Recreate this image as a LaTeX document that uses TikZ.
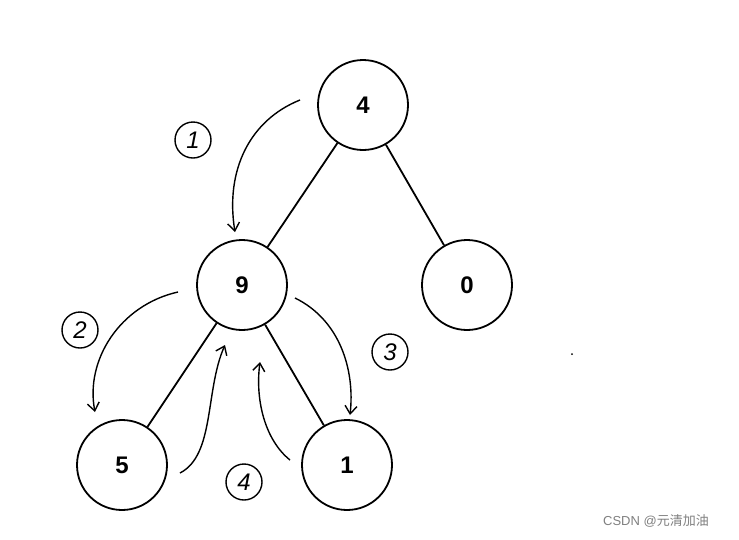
\documentclass[tikz,border=0pt]{standalone}
\usepackage{fontspec}
\usetikzlibrary{arrows.meta}
\setmainfont{Liberation Sans}
\newfontfamily\cjk{Noto Sans CJK SC}
\begin{document}
\begin{tikzpicture}[x=1pt,y=-1pt,
  tn/.style={circle,draw,line width=1.8pt,minimum size=90pt,inner sep=0pt,font=\bfseries\fontsize{24}{24}\selectfont},
  hand/.style={line width=1.4pt,-{Straight Barb[length=8pt,width=12pt]}},
  lab/.style={circle,draw,line width=1.4pt,minimum size=36pt,inner sep=0pt,font=\fontsize{24}{24}\selectfont\itshape}]
\useasboundingbox (0,0) rectangle (739,539);
\fill[white] (0,0) rectangle (739,539);
\node[tn] (n4) at (363,105) {4};
\node[tn] (n9) at (242,285) {9};
\node[tn] (n0) at (467,285) {0};
\node[tn] (n5) at (122,465) {5};
\node[tn] (n1) at (347,465) {1};
\draw[line width=1.8pt] (n4)--(n9) (n4)--(n0) (n9)--(n5) (n9)--(n1);
\coordinate (a1) at (300,100); \coordinate (b1) at (235,232);
\draw[hand] (a1) .. controls (250,120) and (225,170) .. (b1);
\coordinate (a2) at (178,292); \coordinate (b2) at (95,412);
\draw[hand] (a2) .. controls (120,305) and (85,360) .. (b2);
\coordinate (a3) at (295,298); \coordinate (b3) at (350,415);
\draw[hand] (a3) .. controls (340,320) and (355,370) .. (b3);
\coordinate (a4) at (180,473); \coordinate (b4) at (225,345);
\draw[hand] (a4) .. controls (215,455) and (205,390) .. (b4);
\coordinate (a5) at (290,460); \coordinate (b5) at (260,362);
\draw[hand] (a5) .. controls (265,440) and (255,400) .. (b5);
\node[lab] (l1) at (193,140) {1};
\node[lab] (l2) at (80,330) {2};
\node[lab] (l3) at (390,352) {3};
\node[lab] (l4) at (244,482) {4};
\fill (572,354) circle (1pt);
\node[text=gray,font=\fontsize{13}{13}\selectfont] (wm) at (656,521) {CSDN @{\cjk 元清加油}};
\end{tikzpicture}
\end{document}
